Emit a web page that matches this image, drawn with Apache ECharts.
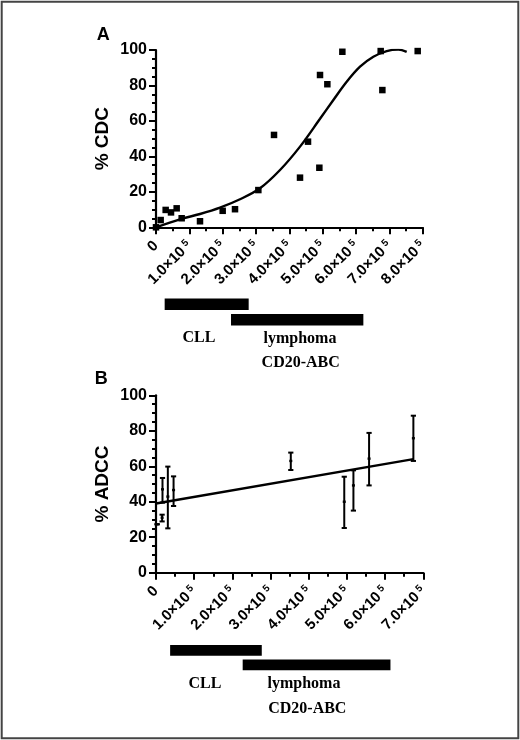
<!DOCTYPE html>
<html>
<head>
<meta charset="utf-8">
<script src="https://cdn.jsdelivr.net/npm/echarts@6/dist/echarts.min.js"></script>
<style>
  html, body { margin: 0; padding: 0; background: #fff; }
  #chart { width: 520px; height: 740px; }
</style>
</head>
<body>
<div id="chart"></div>
<script>
// ---- Panel A: % CDC ----
const cdcX = [0, 0.14e5, 0.29e5, 0.45e5, 0.62e5, 0.77e5, 1.32e5, 2.0e5, 2.37e5, 3.07e5, 3.54e5, 4.32e5, 4.56e5, 4.9e5, 4.92e5, 5.14e5, 5.59e5, 6.74e5, 6.79e5, 7.85e5];
const cdcY = [0, 4.1, 9.8, 8.4, 10.7, 5.1, 3.4, 9.3, 10.2, 21, 52.1, 28, 48.3, 33.6, 85.9, 80.7, 99, 99.4, 77.4, 99.4];
const fitX = [0, 0.72e5, 1.32e5, 1.92e5, 2.52e5, 3.12e5, 3.72e5, 4.32e5, 4.92e5, 5.32e5, 5.72e5, 6.12e5, 6.52e5, 6.92e5, 7.27e5, 7.52e5];
const fitY = [0, 4.5, 7.5, 11.1, 15.8, 22, 32.3, 45.5, 61.2, 71.8, 82.1, 90.6, 96.2, 99.4, 100.2, 98.9];
const tickLabelsA = ['0', '1.0×10', '2.0×10', '3.0×10', '4.0×10', '5.0×10', '6.0×10', '7.0×10', '8.0×10'];

// ---- Panel B: % ADCC ----
const adccX = [0.03e5, 0.16e5, 0.17e5, 0.31e5, 0.46e5, 3.53e5, 4.93e5, 5.17e5, 5.58e5, 6.74e5];
const adccMean = [27.3, 31, 47, 42.9, 46.6, 63, 40, 49.2, 64.3, 75.8];
const adccLow = [27.3, 28.9, 39.5, 25, 37.6, 57.9, 25.2, 35, 49.2, 63];
const adccHigh = [27.3, 32.7, 53.4, 59.8, 54.3, 67.7, 54.1, 57.7, 78.8, 88.5];
const regX = [0, 6.74e5];
const regY = [39, 64];
const tickLabelsB = ['0', '1.0×10', '2.0×10', '3.0×10', '4.0×10', '5.0×10', '6.0×10', '7.0×10'];

// ---- Range bars (antigen density ranges) ----
const rangeNames = ['CLL', 'lymphoma CD20-ABC'];
const rangeA = [[0.26e5, 2.78e5], [2.25e5, 6.22e5]];
const rangeB = [[0.37e5, 2.77e5], [2.27e5, 6.14e5]];

const SANS = "'Liberation Sans', Arial, sans-serif";
const SERIF = "'Liberation Serif', 'Times New Roman', serif";

const chart = echarts.init(document.getElementById('chart'), null, { renderer: 'canvas' });

function xAxisMain(gridIndex, max, labels) {
  return {
    type: 'value', gridIndex, min: 0, max, interval: 1e5,
    axisLine: { show: true, lineStyle: { color: '#000', width: 2.2 } },
    axisTick: { show: true, length: 7, lineStyle: { color: '#000', width: 2 } },
    minorTick: { show: true, splitNumber: 2, length: 4, lineStyle: { color: '#000', width: 2 } },
    splitLine: { show: false }, minorSplitLine: { show: false },
    axisLabel: {
      rotate: 45, margin: 16, color: '#000',
      formatter: function (v) {
        const i = Math.round(v / 1e5);
        return i === 0 ? '{b|' + labels[0] + '}' : '{b|' + labels[i] + '}{s|5}';
      },
      rich: {
        b: { fontFamily: SANS, fontWeight: 'bold', fontSize: 15, color: '#000', lineHeight: 16 },
        s: { fontFamily: SANS, fontWeight: 'bold', fontSize: 10, color: '#000', verticalAlign: 'top', padding: [0, 0, 0, 3] }
      }
    }
  };
}
function yAxisMain(gridIndex, name) {
  return {
    type: 'value', gridIndex, min: 0, max: 100, interval: 20,
    name, nameLocation: 'middle', nameRotate: 90, nameGap: 44, nameMoveOverlap: false,
    nameTextStyle: { fontFamily: SANS, fontWeight: 'bold', fontSize: 19, color: '#000' },
    axisLine: { show: true, lineStyle: { color: '#000', width: 2.2 } },
    axisTick: { show: true, length: 7, lineStyle: { color: '#000', width: 2 } },
    minorTick: { show: true, splitNumber: 4, length: 4, lineStyle: { color: '#000', width: 2 } },
    splitLine: { show: false }, minorSplitLine: { show: false },
    axisLabel: { margin: 9, fontFamily: SANS, fontWeight: 'bold', fontSize: 16, color: '#000' }
  };
}
function hiddenX(gridIndex, max) {
  return { type: 'value', gridIndex, min: 0, max, show: false, splitLine: { show: false } };
}
function hiddenY(gridIndex) {
  return { type: 'value', gridIndex, min: 0, max: 2, inverse: true, show: false, splitLine: { show: false } };
}

function renderRange(params, api) {
  const s = api.coord([api.value(0), api.value(2)]);
  const e = api.coord([api.value(1), api.value(2)]);
  const h = api.size([0, 1])[1] * 0.74;
  return { type: 'rect', shape: { x: s[0], y: s[1] - h / 2, width: e[0] - s[0], height: h }, style: { fill: '#000' } };
}
function renderErr(params, api) {
  const x = api.value(0);
  const lo = api.coord([x, api.value(1)]);
  const hi = api.coord([x, api.value(2)]);
  const m = api.coord([x, api.value(3)]);
  const cw = 2.6;
  const st = { stroke: '#000', lineWidth: 2 };
  return {
    type: 'group',
    children: [
      { type: 'line', shape: { x1: hi[0], y1: hi[1], x2: lo[0], y2: lo[1] }, style: st },
      { type: 'line', shape: { x1: hi[0] - cw, y1: hi[1], x2: hi[0] + cw, y2: hi[1] }, style: st },
      { type: 'line', shape: { x1: lo[0] - cw, y1: lo[1], x2: lo[0] + cw, y2: lo[1] }, style: st },
      { type: 'rect', shape: { x: m[0] - 1.5, y: m[1] - 1.2, width: 3, height: 2.4 }, style: { fill: '#000' } }
    ]
  };
}

function textEl(text, x, y, size) {
  return {
    type: 'text', x, y,
    style: { text, fontFamily: SERIF, fontWeight: 'bold', fontSize: size || 16, fill: '#000', align: 'center', verticalAlign: 'middle' }
  };
}

const option = {
  backgroundColor: '#fff',
  animation: false,
  grid: [
    { left: 156, top: 50, width: 266.7, height: 177.3 },
    { left: 156, top: 296.6, width: 266.7, height: 30.8 },
    { left: 156, top: 395.3, width: 267.3, height: 177.4 },
    { left: 156, top: 643.2, width: 267.3, height: 29 }
  ],
  xAxis: [
    xAxisMain(0, 8e5, tickLabelsA),
    hiddenX(1, 8e5),
    xAxisMain(2, 7e5, tickLabelsB),
    hiddenX(3, 7e5)
  ],
  yAxis: [
    yAxisMain(0, '% CDC'),
    hiddenY(1),
    yAxisMain(2, '% ADCC'),
    hiddenY(3)
  ],
  series: [
    {
      type: 'line', xAxisIndex: 0, yAxisIndex: 0, smooth: 0.35, showSymbol: false, symbol: 'none',
      lineStyle: { color: '#000', width: 2.4 },
      data: fitX.map((x, i) => [x, fitY[i]]), z: 3
    },
    {
      type: 'scatter', xAxisIndex: 0, yAxisIndex: 0, symbol: 'rect', symbolSize: 6.5,
      itemStyle: { color: '#000', opacity: 1 },
      data: cdcX.map((x, i) => [x, cdcY[i]]), z: 4
    },
    {
      type: 'custom', xAxisIndex: 1, yAxisIndex: 1, renderItem: renderRange,
      data: rangeA.map((r, i) => [r[0], r[1], i + 0.5, rangeNames[i]])
    },
    {
      type: 'line', xAxisIndex: 2, yAxisIndex: 2, showSymbol: false, symbol: 'none',
      lineStyle: { color: '#000', width: 2.4 },
      data: regX.map((x, i) => [x, regY[i]]), z: 3
    },
    {
      type: 'custom', xAxisIndex: 2, yAxisIndex: 2, renderItem: renderErr,
      data: adccX.map((x, i) => [x, adccLow[i], adccHigh[i], adccMean[i]]), z: 4
    },
    {
      type: 'custom', xAxisIndex: 3, yAxisIndex: 3, renderItem: renderRange,
      data: rangeB.map((r, i) => [r[0], r[1], i + 0.5, rangeNames[i]])
    }
  ],
  graphic: [
    { type: 'rect', shape: { x: 1.7, y: 1.7, width: 516.6, height: 736.6 }, style: { fill: 'none', stroke: '#444', lineWidth: 2 }, silent: true },
    { type: 'text', x: 103.3, y: 35, style: { text: 'A', fontFamily: SANS, fontWeight: 'bold', fontSize: 18, fill: '#000', align: 'center', verticalAlign: 'middle' } },
    { type: 'text', x: 101.2, y: 379, style: { text: 'B', fontFamily: SANS, fontWeight: 'bold', fontSize: 18, fill: '#000', align: 'center', verticalAlign: 'middle' } },
    textEl('CLL', 199, 338),
    textEl('lymphoma', 300, 338.6),
    textEl('CD20-ABC', 300.7, 363),
    textEl('CLL', 205, 684),
    textEl('lymphoma', 304, 684),
    textEl('CD20-ABC', 307.3, 709)
  ]
};
chart.setOption(option);
</script>
</body>
</html>
